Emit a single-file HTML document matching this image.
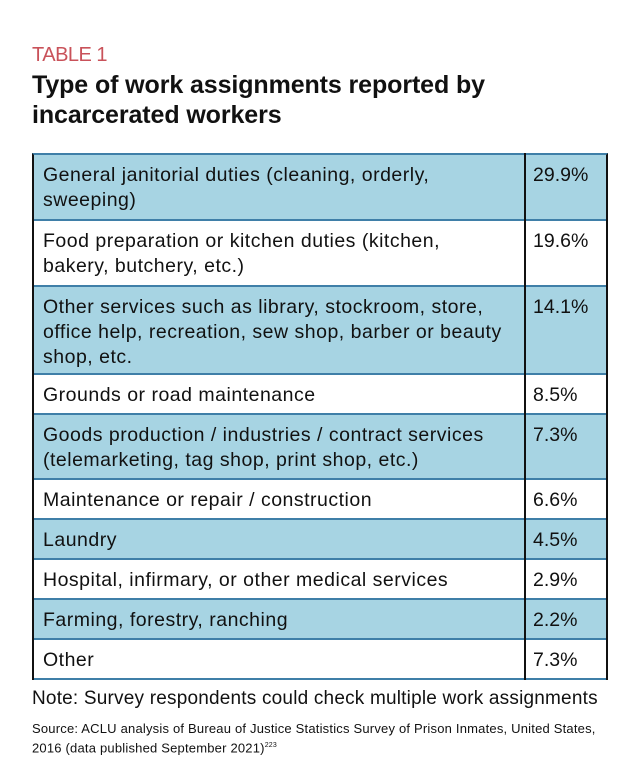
<!DOCTYPE html>
<html><head><meta charset="utf-8"><style>
body{margin:0;width:624px;height:781px;background:#fff;position:relative;font-family:"Liberation Sans",sans-serif;color:#111;overflow:hidden}
.t1{position:absolute;left:32px;top:44px;font-size:20px;color:#c9525a;letter-spacing:-0.5px}
.tt{position:absolute;left:32px;top:70px;font-size:25px;font-weight:bold;line-height:30px;letter-spacing:-0.1px}
.tbl{position:absolute;left:32px;top:153px;width:572px;border-left:2px solid #111;border-right:2px solid #111;border-top:2px solid #3f7fa8;}
.r{position:relative;border-bottom:2px solid #3f7fa8;box-sizing:border-box;font-size:19.5px;line-height:25px;letter-spacing:0.5px}
.r.b{background:#a7d4e3}
.r .l{position:absolute;left:9px;top:8px;width:490px;white-space:nowrap}
.r .v{position:absolute;left:499px;top:8px;letter-spacing:0}
.div{position:absolute;left:524px;top:153px;width:2px;height:527px;background:#111}
.note{position:absolute;left:32px;top:688px;font-size:19px;letter-spacing:0.2px}
.src{position:absolute;left:32px;top:720px;font-size:13px;line-height:17px;letter-spacing:0.2px}
</style></head><body>
<div class="t1">TABLE 1</div>
<div class="tt">Type of work assignments reported by<br>incarcerated workers</div>
<div class="tbl">
<div class="r b" style="height:66px"><div class="l">General janitorial duties (cleaning, orderly,<br>sweeping)</div><div class="v">29.9%</div></div>
<div class="r" style="height:66px"><div class="l">Food preparation or kitchen duties (kitchen,<br>bakery, butchery, etc.)</div><div class="v">19.6%</div></div>
<div class="r b" style="height:88px"><div class="l">Other services such as library, stockroom, store,<br>office help, recreation, sew shop, barber or beauty<br>shop, etc.</div><div class="v">14.1%</div></div>
<div class="r" style="height:40px"><div class="l">Grounds or road maintenance</div><div class="v">8.5%</div></div>
<div class="r b" style="height:65px"><div class="l">Goods production / industries / contract services<br>(telemarketing, tag shop, print shop, etc.)</div><div class="v">7.3%</div></div>
<div class="r" style="height:40px"><div class="l">Maintenance or repair / construction</div><div class="v">6.6%</div></div>
<div class="r b" style="height:40px"><div class="l">Laundry</div><div class="v">4.5%</div></div>
<div class="r" style="height:40px"><div class="l">Hospital, infirmary, or other medical services</div><div class="v">2.9%</div></div>
<div class="r b" style="height:40px"><div class="l">Farming, forestry, ranching</div><div class="v">2.2%</div></div>
<div class="r" style="height:40px"><div class="l">Other</div><div class="v">7.3%</div></div>
</div>
<div class="div"></div>
<div class="note">Note: Survey respondents could check multiple work assignments</div>
<div class="src">Source: ACLU analysis of Bureau of Justice Statistics Survey of Prison Inmates, United States,<br>2016 (data published September 2021)<sup style="font-size:7px">223</sup></div>
</body></html>
